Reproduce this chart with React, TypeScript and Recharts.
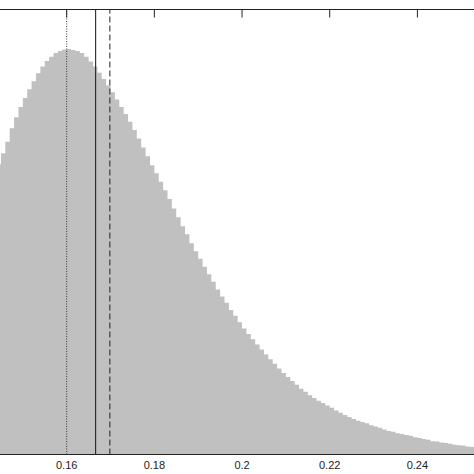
import React from "react";
import { ComposedChart, Area, XAxis, YAxis, ReferenceLine } from "recharts";

// Histogram: bin width and first bin's left edge
const BIN_START = 0.144;
const BIN_WIDTH = 0.001;

// bar heights (relative frequency, axis top = 1000), one per bin from 0.144 to 0.252
const counts: number[] = [
  652, 677, 703, 733, 758, 781, 801, 821, 839, 857, 872, 884, 894, 902, 907, 910,
  911, 909, 907, 902, 894, 883, 872, 858, 844, 829,
  814, 798, 781, 765, 748, 729, 710, 690, 670, 650,
  632, 613, 594, 574, 553, 533, 513, 495, 475, 457,
  440, 422, 405, 388, 371, 355, 341, 325, 312, 297,
  283, 271, 259, 247, 236, 225, 214, 204, 193, 183,
  174, 165, 157, 148, 141, 133, 127, 121, 116, 110,
  105, 99, 94, 89, 84, 80, 76, 73, 70, 66,
  63, 60, 56, 53, 51, 48, 46, 44, 42, 39,
  37, 35, 33, 30, 29, 27, 26, 24, 22, 21,
  20, 18, 17,
];

const xTicks = [0.16, 0.18, 0.2, 0.22, 0.24];
const xDomain: [number, number] = [0.14479, 0.25291];
const yDomain: [number, number] = [0, 1000];

// summary statistics drawn as vertical lines
const MODE = 0.16;
const MEDIAN = 0.16661;
const MEAN = 0.16985;

const binLefts = counts.map((_, i) => Number((BIN_START + i * BIN_WIDTH).toFixed(4)));
const data = [
  ...binLefts.map((x, i) => ({ x, v: counts[i] })),
  { x: Number((BIN_START + counts.length * BIN_WIDTH).toFixed(4)), v: counts[counts.length - 1] },
];

const FONT = '"Liberation Sans", Arial, sans-serif';

export default function App() {
  return (
    <div style={{ position: "absolute", left: 0, top: 0, width: 474, height: 474, background: "#fff" }}>
      <ComposedChart
        width={474}
        height={474}
        data={data}
        margin={{ top: 8.5, right: 0, bottom: 0, left: 0 }}
        style={{ fontFamily: FONT }}
      >
        <XAxis
          dataKey="x"
          type="number"
          domain={xDomain}
          allowDataOverflow
          ticks={xTicks}
          tickFormatter={(v: number) => String(v)}
          height={19.5}
          tickLine={false}
          tickSize={6}
          tickMargin={1}
          axisLine={{ stroke: "#222", strokeWidth: 1 }}
          tick={{ fill: "#222", fontSize: 11, fontFamily: FONT }}
          interval={0}
        />
        <XAxis
          xAxisId="top"
          dataKey="x"
          type="number"
          orientation="top"
          domain={xDomain}
          allowDataOverflow
          ticks={xTicks}
          height={1}
          tick={() => <g />}
          tickSize={-8}
          tickLine={{ stroke: "#222", strokeWidth: 1 }}
          axisLine={{ stroke: "#222", strokeWidth: 1 }}
          interval={0}
        />
        <YAxis hide type="number" domain={yDomain} allowDataOverflow />
        <Area
          type="stepAfter"
          dataKey="v"
          fill="#c0c0c0"
          fillOpacity={1}
          stroke="none"
          isAnimationActive={false}
          dot={false}
          activeDot={false}
        />
        <ReferenceLine x={MODE} stroke="#333" strokeWidth={1} strokeDasharray="1 1.5" />
        <ReferenceLine x={MEDIAN} stroke="#111" strokeWidth={1} />
        <ReferenceLine x={MEAN} stroke="#222" strokeWidth={1} strokeDasharray="6 3" />
      </ComposedChart>
    </div>
  );
}
